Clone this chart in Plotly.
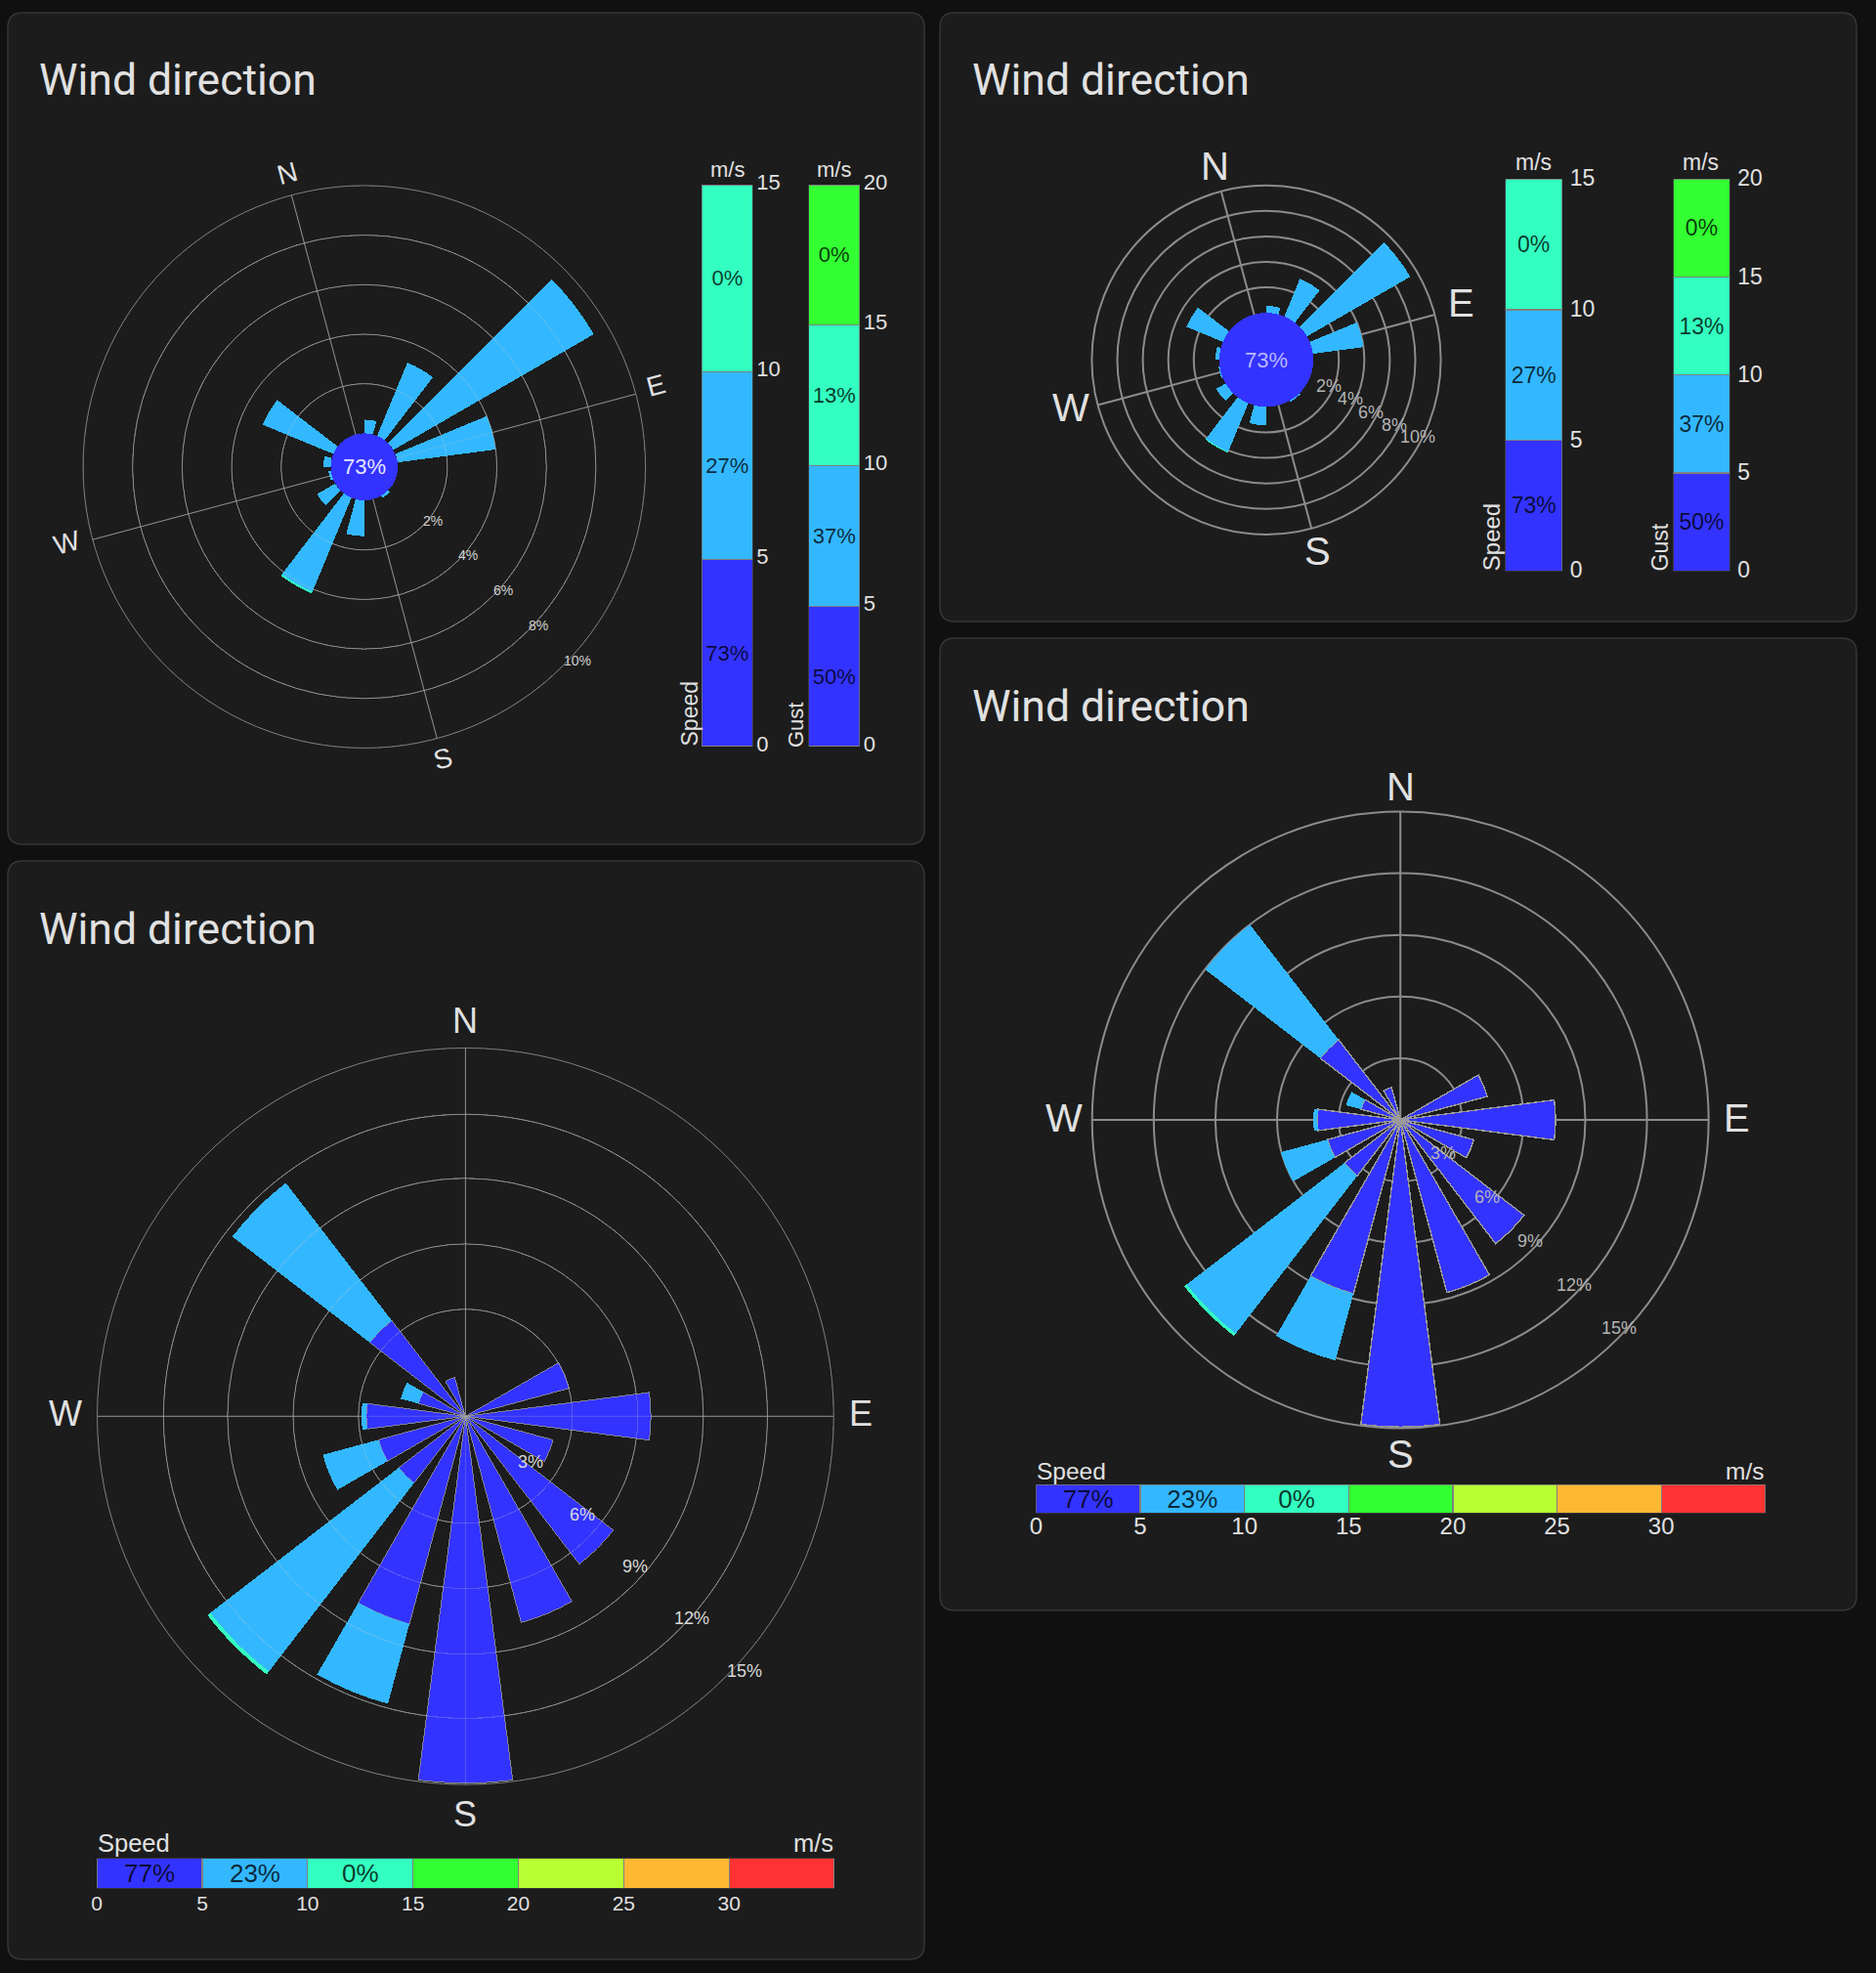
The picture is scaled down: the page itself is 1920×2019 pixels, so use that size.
import plotly.graph_objects as go

W, H = 1920, 2019

directions = [0, 22.5, 45, 67.5, 90, 112.5, 135, 157.5, 180, 202.5, 225, 247.5, 270, 292.5, 315, 337.5]

# first snapshot (cards on the top row): calm circle + 5-10 m/s petals
snap1_calm = 73
snap1_5_10 = [0, 0.55, 3.2, 9.35, 4.0, 0, 0, 0.1, 0, 1.45, 4.1, 0.85, 0.1, 0.3, 3.08, 0]
snap1_10_15 = [0, 0, 0, 0, 0, 0, 0, 0, 0, 0, 0.08, 0, 0, 0, 0, 0]
snap1_speed_pct = ["73%", "27%", "0%"]
snap1_gust_pct = ["50%", "37%", "13%", "0%"]
snap1_ticks = [2, 4, 6, 8, 10]

# second snapshot (lower cards)
snap2_0_5 = [0, 0, 0, 4.38, 7.55, 3.7, 7.6, 8.7, 14.94, 8.76, 3.43, 3.67, 4.04, 1.98, 4.92, 1.64]
snap2_5_10 = [0, 0, 0, 0, 0, 0, 0, 0, 0, 3.37, 9.69, 2.35, 0.2, 0.76, 7.07, 0]
snap2_10_15 = [0, 0, 0, 0, 0, 0, 0, 0, 0, 0, 0.15, 0, 0, 0, 0, 0]
snap2_speed_pct = ["77%", "23%", "0%", "", "", "", ""]
snap2_ticks = [3, 6, 9, 12, 15]
snap2_rings_wide = [4.36, 7.02, 9.69, 12.3, 15]

bin_size = 5
bin_colors = ["#3333ff", "#33b8ff", "#33ffc0", "#33ff33", "#b8ff33", "#ffb833", "#ff3333"]

TEXT = "#e1e1e1"
FONT = "Liberation Sans"
PCT_COLOR = "rgba(0,0,0,0.78)"


def px(x):
    return x / W


def py(y):
    return 1 - y / H


fig = go.Figure()
layout = dict(
    width=W, height=H, margin=dict(l=0, r=0, t=0, b=0, pad=0, autoexpand=False), autosize=False,
    paper_bgcolor="#101010", plot_bgcolor="rgba(0,0,0,0)", showlegend=False,
    barmode="stack", font=dict(family=FONT, color=TEXT),
)
shapes = []
annotations = []


def text(x, y, s, size, color=TEXT, angle=0, family=FONT, xanchor="center", yanchor="middle"):
    annotations.append(dict(x=px(x), y=py(y), xref="paper", yref="paper", text=s, showarrow=False,
                            font=dict(size=size, color=color, family=family), textangle=angle,
                            xanchor=xanchor, yanchor=yanchor))


def card(x0, y0, x1, y1, r=15):
    path = (f"M {px(x0 + r)} {py(y0)} L {px(x1 - r)} {py(y0)} Q {px(x1)} {py(y0)} {px(x1)} {py(y0 + r)} "
            f"L {px(x1)} {py(y1 - r)} Q {px(x1)} {py(y1)} {px(x1 - r)} {py(y1)} "
            f"L {px(x0 + r)} {py(y1)} Q {px(x0)} {py(y1)} {px(x0)} {py(y1 - r)} "
            f"L {px(x0)} {py(y0 + r)} Q {px(x0)} {py(y0)} {px(x0 + r)} {py(y0)} Z")
    shapes.append(dict(type="path", xref="paper", yref="paper", path=path, fillcolor="#1c1c1c",
                       line=dict(color="#363636", width=1.5), layer="below"))


def polar(name, cx, cy, R, rmin, rmax, ticks, rotation, grid_w, grid_color):
    layout[name] = dict(
        domain=dict(x=[px(cx - R), px(cx + R)], y=[py(cy + R), py(cy - R)]),
        bgcolor="rgba(0,0,0,0)", barmode="overlay",
        radialaxis=dict(range=[rmin, rmax], tickvals=ticks, showticklabels=False, ticks="", showline=False,
                        gridcolor=grid_color, gridwidth=grid_w),
        angularaxis=dict(direction="clockwise", rotation=rotation, tickmode="array", tickvals=[0, 90, 180, 270],
                         showticklabels=False, ticks="", gridcolor=grid_color, gridwidth=grid_w,
                         linecolor=grid_color, linewidth=grid_w),
    )


def petals(name, values, base, color, line_w, width=14.8):
    fig.add_trace(go.Barpolar(subplot=name, theta=directions, r=values, base=base, width=width,
                              marker=dict(color=color, line=dict(color="#9a9a9a", width=line_w))))


def grid_over_bars(name, rings, rmin, rmax):
    # faint copy of the grid on top of the petals
    over = "rgba(200,200,200,0.25)"
    for t in rings:
        fig.add_trace(go.Barpolar(subplot=name, theta=[0], r=[0.001], base=[t - 0.001], width=[360],
                                  marker=dict(color="rgba(0,0,0,0)", line=dict(color=over, width=1))))
    for a in [0, 90, 180, 270]:
        fig.add_trace(go.Scatterpolar(subplot=name, r=[max(rmin, 0), rmax], theta=[a, a], mode="lines",
                                      line=dict(color=over, width=1)))


def add(a, b):
    return [p + q for p, q in zip(a, b)]


def vbar(n, x0, x1, y0, y1, top, pct, size, standoff, shift):
    xa, ya = f"xaxis{n}", f"yaxis{n}"
    layout[xa] = dict(domain=[px(x0), px(x1)], visible=False, range=[-0.5, 0.5], anchor=f"y{n}")
    layout[ya] = dict(domain=[py(y1), py(y0)], range=[0, top], anchor=f"x{n}", side="right",
                      tickvals=list(range(0, top + 1, bin_size)), showgrid=False, zeroline=False, showline=False,
                      ticks="", ticklabelstandoff=standoff, ticklabelshift=shift,
                      tickfont=dict(size=size, color=TEXT, family=FONT))
    for i, p in enumerate(pct):
        fig.add_trace(go.Bar(x=[0], y=[bin_size], width=1, xaxis=f"x{n}", yaxis=f"y{n}", text=[p],
                             textposition="inside", insidetextanchor="middle", textangle=0, constraintext="none",
                             textfont=dict(size=size, color=PCT_COLOR, family=FONT),
                             marker=dict(color=bin_colors[i], line=dict(color="#808080", width=1.2))))


def hbar(n, x0, x1, y0, y1, pct, size, tick_size, standoff):
    xa, ya = f"xaxis{n}", f"yaxis{n}"
    layout[ya] = dict(domain=[py(y1), py(y0)], visible=False, range=[-0.5, 0.5], anchor=f"x{n}")
    layout[xa] = dict(domain=[px(x0), px(x1)], range=[0, bin_size * len(pct)], anchor=f"y{n}",
                      tickvals=list(range(0, bin_size * len(pct), bin_size)), showgrid=False, zeroline=False,
                      showline=False, ticks="", ticklabelstandoff=standoff,
                      tickfont=dict(size=tick_size, color=TEXT, family=FONT))
    for i, p in enumerate(pct):
        fig.add_trace(go.Bar(x=[bin_size], y=[0], width=1, orientation="h", xaxis=f"x{n}", yaxis=f"y{n}", text=[p],
                             textposition="inside", insidetextanchor="middle", textangle=0, constraintext="none",
                             textfont=dict(size=size, color=PCT_COLOR, family=FONT),
                             marker=dict(color=bin_colors[i], line=dict(color="#808080", width=1.2))))


card(8, 13, 946, 864)
card(962, 13, 1900, 636)
card(8, 881, 946, 2005)
card(962, 653, 1900, 1648)

for tx, ty in [(37.5, 82), (992.5, 82), (37.5, 951), (992.5, 723)]:
    text(tx, ty, "Wind direction", 44.5, "#e1e1e1", family="Roboto", xanchor="left")

# card 1, top left
hole = 1.355
polar("polar", 372.8, 477.7, 287.8, -hole, 10, snap1_ticks, 105, 1, "#7c7c7c")
petals("polar", snap1_5_10, None, bin_colors[1], 0, 15)
petals("polar", snap1_10_15, snap1_5_10, bin_colors[2], 0, 15)
grid_over_bars("polar", snap1_ticks, -hole, 10)
fig.add_trace(go.Barpolar(subplot="polar", theta=[0], r=[hole], base=[-hole], width=[360],
                          marker=dict(color=bin_colors[0], line=dict(width=0))))
text(372.8, 477.7, f"{snap1_calm}%", 22, "#e6e6ff")
for s, (x, y) in zip(snap1_ticks, [(443, 533), (479, 568), (515, 604), (551, 640), (591, 676)]):
    text(x, y, f"{s}%", 14, "#d0d0d0")
for s, (x, y) in zip("NESW", [(293.5, 177.7), (671, 395), (453, 776.5), (68, 555)]):
    text(x, y, s, 28, angle=-15)
vbar(1, 718.3, 770.3, 189, 764, 15, snap1_speed_pct, 22, 3, -3)
vbar(2, 827.7, 879.7, 189, 764, 20, snap1_gust_pct, 22, 3, -3)
text(744, 173, "m/s", 22)
text(853.7, 173, "m/s", 22)
text(705, 766, "Speed", 23, angle=-90, yanchor="bottom")
text(814, 767, "Gust", 22, angle=-90, yanchor="bottom")

# card 2, top right
hole2 = 3.69
polar("polar2", 1296, 368.3, 178.6, -hole2, 10, snap1_ticks, 105, 2, "#8c8c8c")
petals("polar2", snap1_5_10, None, bin_colors[1], 0, 15)
petals("polar2", snap1_10_15, snap1_5_10, bin_colors[2], 0, 15)
fig.add_trace(go.Barpolar(subplot="polar2", theta=[0], r=[hole2], base=[-hole2], width=[360],
                          marker=dict(color=bin_colors[0], line=dict(width=0))))
text(1296, 368.3, f"{snap1_calm}%", 22, "#b8b8ff")
for s, (x, y) in zip(snap1_ticks, [(1360, 395), (1382, 408), (1403, 421.6), (1427, 435), (1451, 446.6)]):
    text(x, y, f"{s}%", 18, "#b4b4b4")
for s, (x, y) in zip("NESW", [(1243, 170), (1495, 310), (1348, 564), (1096, 417)]):
    text(x, y, s, 40)
vbar(3, 1540.7, 1598.7, 183.3, 584.3, 15, snap1_speed_pct, 23, 7, -1)
vbar(4, 1712.7, 1770.3, 183.3, 584.3, 20, snap1_gust_pct, 23, 7, -1)
text(1569, 166, "m/s", 23)
text(1740.7, 166, "m/s", 23)
text(1526.7, 586, "Speed", 24, angle=-90, yanchor="bottom")
text(1698, 587, "Gust", 23, angle=-90, yanchor="bottom")

# card 3, bottom left (rings drawn wider than the scale, as in the card)
polar("polar3", 476.4, 1449.3, 376.9, 0, 15, snap2_rings_wide, 90, 1, "#7c7c7c")
petals("polar3", snap2_0_5, None, bin_colors[0], 0.8)
petals("polar3", snap2_5_10, snap2_0_5, bin_colors[1], 0)
petals("polar3", snap2_10_15, add(snap2_0_5, snap2_5_10), bin_colors[2], 0)
grid_over_bars("polar3", snap2_rings_wide, 0, 15)
for s, (x, y) in zip(snap2_ticks, [(543.4, 1496), (596, 1550), (650, 1603), (708, 1656), (762, 1710)]):
    text(x, y, f"{s}%", 18, "#d8d8d8")
for s, (x, y) in zip("NESW", [(476.4, 1044), (881, 1446), (476.4, 1856), (67, 1446)]):
    text(x, y, s, 36)
hbar(5, 99.2, 854, 1901.7, 1932.3, snap2_speed_pct, 26, 21, 1)
text(98, 1886, "Speed", 25.5, xanchor="left")
text(855, 1886, "m/s", 25.5, xanchor="right")

# card 4, right
polar("polar4", 1433.2, 1146, 315.5, 0, 15, snap2_ticks, 90, 2, "#8c8c8c")
petals("polar4", snap2_0_5, None, bin_colors[0], 1.4)
petals("polar4", snap2_5_10, snap2_0_5, bin_colors[1], 0)
petals("polar4", snap2_10_15, add(snap2_0_5, snap2_5_10), bin_colors[2], 0)
for s, (x, y) in zip(snap2_ticks, [(1477, 1180), (1522, 1225), (1566, 1270), (1611, 1315), (1657, 1359)]):
    text(x, y, f"{s}%", 18, "#b4b4b4")
for s, (x, y) in zip("NESW", [(1433.2, 805), (1777, 1144), (1433.2, 1488), (1089, 1144)]):
    text(x, y, s, 40)
hbar(6, 1060.4, 1806.8, 1519.3, 1548.3, snap2_speed_pct, 26, 24, -3)
text(1058.5, 1505.7, "Speed", 24.5, xanchor="left")
text(1807, 1505.7, "m/s", 24.5, xanchor="right")

fig.update_layout(shapes=shapes, annotations=annotations, **layout)
fig.write_html("out.html", config={"displayModeBar": False},
               post_script="document.body.style.margin='0';document.body.style.background='#101010';")
